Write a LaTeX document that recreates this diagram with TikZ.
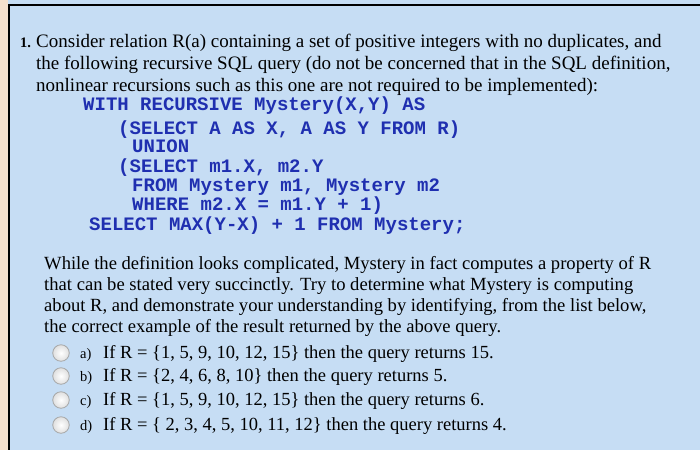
\documentclass[tikz,border=0pt]{standalone}
\usepackage{fontspec}
\setmainfont{Liberation Serif}
\setmonofont{Liberation Mono}
\definecolor{bgblue}{HTML}{C6DDF4}
\definecolor{peach}{HTML}{F6E0CC}
\definecolor{codeblue}{HTML}{1F2FB0}
\begin{document}
\begin{tikzpicture}[x=1pt,y=-1pt,
  txt/.style={anchor=base west,inner sep=0pt,font=\fontsize{19}{21}\selectfont},
  ptxt/.style={anchor=base west,inner sep=0pt,font=\fontsize{18.6}{21}\selectfont},
  opt/.style={anchor=base west,inner sep=0pt,font=\fontsize{18.5}{21}\selectfont},
  lab/.style={anchor=base west,inner sep=0pt,font=\fontsize{14.5}{16}\selectfont},
  code/.style={anchor=base west,inner sep=0pt,text=codeblue,font=\fontsize{19}{21}\ttfamily\bfseries},
  radio/.style={circle,draw=gray!70,line width=0.8pt,shading=radial,inner color=white,outer color=gray!25,minimum size=16.5pt,inner sep=0pt}]
\useasboundingbox (0,0) rectangle (700,450);
\fill[bgblue] (0,0) rectangle (700,450);
\fill[peach] (0,0) rectangle (8,450);
\fill[black] (8,4) rectangle (10,450);
\fill[black] (8,4) rectangle (700,6);
\node[txt] (n1) at (20,47) {\textbf{\fontsize{14.5}{16}\selectfont 1.}};
\node[txt] (l1) at (36,47) {Consider relation R(a) containing a set of positive integers with no duplicates, and};
\node[txt] (l2) at (36,69) {the following recursive SQL query (do not be concerned that in the SQL definition,};
\node[txt] (l3) at (36,91) {nonlinear recursions such as this one are not required to be implemented):};
\node[code] (c1) at (83,110) {WITH RECURSIVE Mystery(X,Y) AS};
\node[code] (c2) at (118,134) {(SELECT A AS X, A AS Y FROM R)};
\node[code] (c3) at (132,152) {UNION};
\node[code] (c4) at (118,172) {(SELECT m1.X, m2.Y};
\node[code] (c5) at (132,191) {FROM Mystery m1, Mystery m2};
\node[code] (c6) at (132,210) {WHERE m2.X = m1.Y + 1)};
\node[code] (c7) at (89,230) {SELECT MAX(Y-X) + 1 FROM Mystery;};
\node[ptxt] (p1) at (44,269) {While the definition looks complicated, Mystery in fact computes a property of R};
\node[ptxt] (p2) at (44,290) {that can be stated very succinctly. Try to determine what Mystery is computing};
\node[ptxt] (p3) at (44,311) {about R, and demonstrate your understanding by identifying, from the list below,};
\node[ptxt] (p4) at (44,332) {the correct example of the result returned by the above query.};
\node[radio] (ra) at (61,353) {};
\node[lab] (la) at (80,358) {a)};
\node[opt] (oa) at (103,358) {If R = \{1, 5, 9, 10, 12, 15\} then the query returns 15.};
\node[radio] (rb) at (61,376) {};
\node[lab] (lb) at (80,381) {b)};
\node[opt] (ob) at (103,381) {If R = \{2, 4, 6, 8, 10\} then the query returns 5.};
\node[radio] (rc) at (61,400) {};
\node[lab] (lc) at (80,405) {c)};
\node[opt] (oc) at (103,405) {If R = \{1, 5, 9, 10, 12, 15\} then the query returns 6.};
\node[radio] (rd) at (61,425) {};
\node[lab] (ld) at (80,430) {d)};
\node[opt] (od) at (103,430) {If R = \{ 2, 3, 4, 5, 10, 11, 12\} then the query returns 4.};
\end{tikzpicture}
\end{document}
